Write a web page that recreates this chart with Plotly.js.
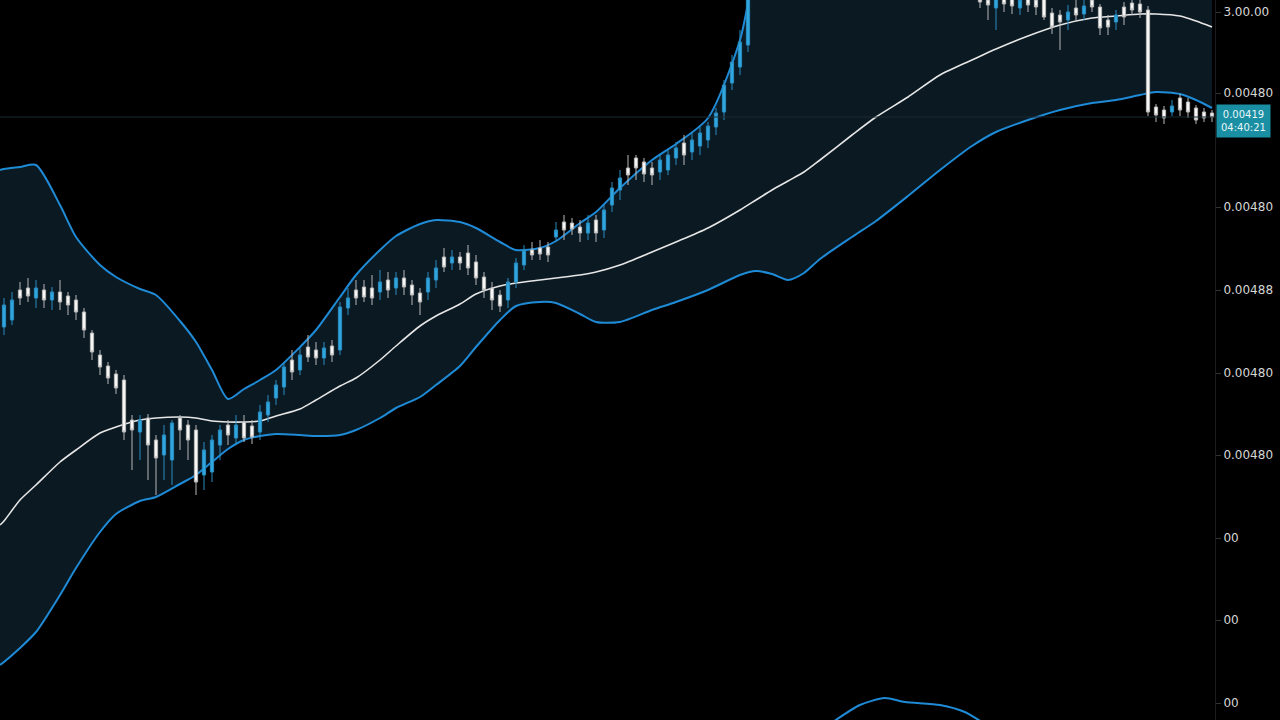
<!DOCTYPE html>
<html>
<head>
<meta charset="utf-8">
<script src="https://cdn.plot.ly/plotly-3.0.1.min.js"></script>
<style>
  html, body { margin: 0; padding: 0; background: #000; }
  #chart { width: 1280px; height: 720px; }
</style>
</head>
<body>
<div id="chart"></div>
<script>
// ---- candle data (bar number, OHLC) ----
const openP = [393,400,430,432,422,430,420,428,424,420,408,387,365,354,346,340,
  300,288,302,280,265,260,302,295,290,245,248,275,295,282,298,294,288,305,
  322,333,360,350,373,370,362,374,370,412,430,433,432,428,440,432,442,435,427,
  428,440,463,457,463,467,458,443,432,425,420,438,455,470,472,473,
  483,498,497,493,487,500,490,515,530,552,562,558,552,548,550,562,577,568,574,580,593,608,637,653,675,
  740,770,795,785,815,840,830,860,880,870,895,905,890,870,880,860,845,850,830,815,820,800,785,790,770,760,765,748,
  725,720,712,724,722,712,722,720,722,707,705,700,712,706,720,713,700,698,713,717,716,710,613,610,608,622,618,612,608,607];
const highP = [422,428,438,442,440,436,433,440,428,425,412,390,370,358,350,345,
  305,305,306,285,295,300,305,300,295,278,285,295,300,305,305,300,315,325,
  340,358,370,372,385,378,378,380,418,432,440,440,445,450,448,448,450,440,432,
  448,460,472,470,468,475,465,448,438,430,442,462,475,478,480,478,
  498,505,502,500,505,505,515,538,550,565,565,562,558,565,570,578,585,588,593,598,612,640,665,690,760,
  780,805,810,825,850,855,870,892,895,905,918,915,898,890,888,868,860,858,838,830,826,808,800,795,778,775,770,755,
  730,726,728,730,728,726,728,726,728,712,710,715,722,722,728,716,705,710,718,722,720,714,616,614,620,626,622,615,612,610];
const lowP = [385,395,415,418,412,412,410,410,405,400,382,360,345,336,326,280,
  250,260,240,225,240,235,270,260,225,230,238,260,275,275,278,276,280,298,
  315,325,340,345,358,355,355,358,365,405,415,418,415,420,422,425,425,415,405,
  420,432,448,450,450,445,435,422,410,408,412,432,450,460,460,458,
  478,480,485,478,480,478,482,508,520,535,540,538,535,540,545,555,555,560,565,572,585,600,630,645,668,
  732,760,775,778,805,820,822,850,860,862,885,878,860,858,848,835,835,820,805,805,790,775,775,760,750,748,738,728,
  712,700,690,708,706,705,708,705,700,686,670,690,698,700,708,685,685,690,695,705,702,604,598,596,604,604,602,596,598,598];
const closeP = [415,420,422,424,432,420,428,418,415,408,390,368,353,342,332,288,
  290,300,275,262,285,297,290,280,238,270,280,290,285,295,282,283,308,318,
  335,353,348,365,363,362,372,365,413,422,422,423,422,438,430,442,433,425,418,
  442,452,453,463,457,452,442,430,420,414,438,457,470,465,466,465,
  490,490,491,487,497,487,510,532,542,545,552,546,545,560,565,572,565,580,587,594,607,635,658,678,740,
  770,795,785,815,840,830,860,880,870,895,905,890,870,880,860,845,850,830,815,820,800,785,790,770,760,765,748,740,
  718,715,722,716,714,720,715,713,703,693,698,708,705,714,713,692,693,705,703,710,708,608,605,602,614,610,608,600,602,603];

// ---- Bollinger bands (sampled at bar numbers) ----
const bandBar = [-0.5,0,2,4,7,9,12,14,17,19,22,24,26,28,30,32,34,37,39,42,44,47,49,52,54,57,59,62,64,67,69,72,74,77,81,84,88,92,
  94,96,98,100,102,106,109,113,117,121,124,128,132,136,139,142,144,147,149,151];
const upperBand = [550,551,553,555,515,483,455,443,431,425,399,378,350,321,331,340,350,373,390,423,445,470,484,496,500,498,492,478,470,472,479,497,508,532,560,576,602,680,
  760,830,890,940,980,1030,1050,1055,1040,1010,980,940,900,860,835,815,805,795,785,775];
const middleBand = [195,199,220,235,258,270,287,293,300,302,303,302,299,298,298,299,304,311,320,334,342,360,374,394,404,416,426,434,437,440,442,445,448,455,468,478,492,510,
  520,530,539,548,560,585,603,623,645,660,671,684,695,702,704,706,706,704,699,693];
const lowerBand = [55,58,72,88,125,152,188,206,219,223,236,245,258,271,280,284,286,285,284,285,290,302,312,323,335,354,373,400,414,418,417,406,398,398,410,418,430,445,
  449,446,440,447,461,483,499,524,550,574,588,600,610,617,620,625,628,626,620,612];

// ---- lower indicator fragment ----
const extraBar = [103.25,107,110.1,112.6,117,120.1,122.6];
const extraVal = [-4,15,22,18,15,8,-4];

// ---- axis labels ----
const tickVals = [708,627,513,430,347,265,182,100,17];
const tickText = ["3.00.00","0.00480","0.00480","0.00488","0.00480","0.00480","00","00","00"];
const lastPrice = 603;
const priceTag = "0.00419<br>04:40:21";

const bars = openP.map((_, i) => i);

const bandBlue = '#1f8bd6';
const xRange = [-0.5, 151.375];
const yRange = [0, 720];
const traces = [
  { x: bandBar, y: upperBand, type: 'scatter', mode: 'lines',
    line: { color: bandBlue, width: 2, shape: 'spline', smoothing: 0.7 }, hoverinfo: 'skip' },
  { x: bandBar, y: lowerBand, type: 'scatter', mode: 'lines', fill: 'tonexty',
    fillcolor: '#0b1922',
    line: { color: bandBlue, width: 2, shape: 'spline', smoothing: 0.7 }, hoverinfo: 'skip' },
  { x: bandBar, y: middleBand, type: 'scatter', mode: 'lines',
    line: { color: '#e6e6e6', width: 1.6, shape: 'spline', smoothing: 0.7 }, hoverinfo: 'skip' },
  { x: extraBar, y: extraVal, type: 'scatter', mode: 'lines',
    line: { color: bandBlue, width: 2, shape: 'spline', smoothing: 0.7 }, hoverinfo: 'skip' },
  { x: bars, open: openP, high: highP, low: lowP, close: closeP, type: 'candlestick',
    xaxis: 'x2', yaxis: 'y2',
    increasing: { line: { color: '#2a8cc0', width: 1 }, fillcolor: '#2ea6de' },
    decreasing: { line: { color: '#b8b8b8', width: 1 }, fillcolor: '#f6f6f6' },
    whiskerwidth: 0, hoverinfo: 'skip' }
];

const layout = {
  width: 1280, height: 720,
  margin: { l: 0, r: 65, t: 0, b: 0 },
  paper_bgcolor: '#000', plot_bgcolor: '#000',
  showlegend: false,
  boxgap: 0.42,
  xaxis: { range: xRange, showgrid: false, zeroline: false, showticklabels: false,
    showline: false, ticks: '', rangeslider: { visible: false }, fixedrange: true },
  xaxis2: { range: xRange, overlaying: 'x', showgrid: false, zeroline: false, showticklabels: false,
    showline: false, ticks: '', rangeslider: { visible: false }, fixedrange: true },
  yaxis: { range: yRange, side: 'right', showgrid: false, zeroline: false,
    tickmode: 'array', tickvals: tickVals, ticktext: tickText,
    ticks: 'outside', ticklen: 5, tickcolor: '#333',
    showline: true, linecolor: '#1c1c1c', linewidth: 1,
    tickfont: { family: 'DejaVu Sans, sans-serif', size: 12, color: '#d6d6d6' } },
  yaxis2: { range: yRange, overlaying: 'y', side: 'right', showgrid: false, zeroline: false,
    showticklabels: false, ticks: '', showline: false },
  shapes: [
    { type: 'line', xref: 'paper', x0: 0, x1: 1, yref: 'y', y0: lastPrice, y1: lastPrice,
      line: { color: '#1d2b33', width: 1 } }
  ],
  annotations: [
    { xref: 'paper', x: 1, xanchor: 'left', xshift: 1, yref: 'y', y: lastPrice - 4, yanchor: 'middle',
      text: priceTag, showarrow: false, bgcolor: '#1a8ea3', borderpad: 4, align: 'center',
      font: { family: 'DejaVu Sans, sans-serif', size: 10, color: '#e8f6f8' } }
  ]
};

Plotly.newPlot('chart', traces, layout, { staticPlot: true, displayModeBar: false });
</script>
</body>
</html>
